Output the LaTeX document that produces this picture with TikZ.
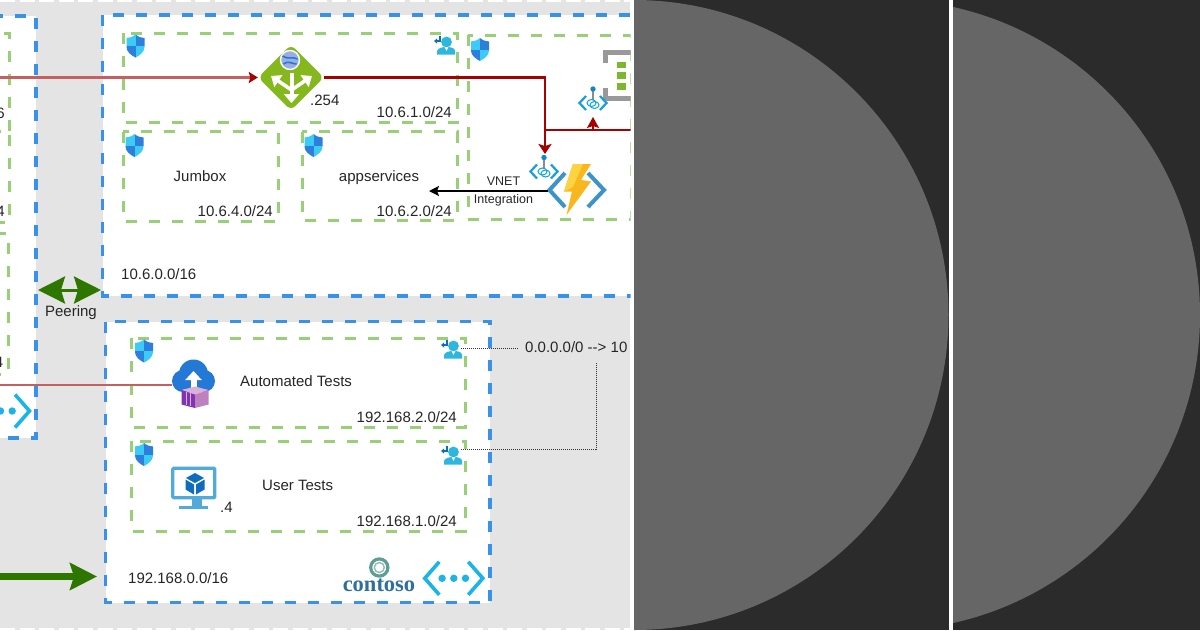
\documentclass[tikz,border=0pt]{standalone}
\usepackage{fontspec}
\setmainfont{Liberation Sans}
\newfontfamily\logofont{Liberation Serif}
\usetikzlibrary{arrows.meta,shapes.geometric}

\definecolor{diagbg}{HTML}{E4E4E4}
\definecolor{vnetblue}{HTML}{3893E8}
\definecolor{subnetgreen}{HTML}{97D077}
\definecolor{panelbg}{HTML}{2B2B2B}
\definecolor{panelcircle}{HTML}{666666}
\definecolor{routered}{HTML}{A80000}
\definecolor{fadedred}{HTML}{C65F5F}
\definecolor{peergreen}{HTML}{2D7600}
\definecolor{iconcyan}{HTML}{1AB4E6}
\definecolor{personcyan}{HTML}{2DB7DF}
\definecolor{funcblue}{HTML}{3B94C8}
\definecolor{shieldlight}{HTML}{3CCBF4}
\definecolor{shielddark}{HTML}{2C80DC}
\definecolor{gatewaygreen}{HTML}{85B81C}
\definecolor{cloudblue}{HTML}{2478D6}
\definecolor{vmblue}{HTML}{50ABD8}
\definecolor{cubeblue}{HTML}{106CBD}
\definecolor{storegreen}{HTML}{7CB82F}
\definecolor{logoteal}{HTML}{5F9E93}
\definecolor{logoblue}{HTML}{2E6F9E}
\definecolor{boltdark}{HTML}{F9B71E}
\definecolor{boltlight}{HTML}{FFD23F}

\tikzset{
	vnetbox/.style={draw=vnetblue, fill=white, line width=3.4pt, dash pattern=on 11pt off 12pt},
	subnetbox/.style={draw=subnetgreen, line width=3pt, dash pattern=on 11pt off 12pt},
	lbl/.style={font=\fontsize{15}{18}\selectfont, text=black!85, inner sep=0pt},
	smalllbl/.style={font=\fontsize{12.5}{15}\selectfont, text=black!85, inner sep=0pt},
	routedot/.style={black!80, line width=1pt, dash pattern=on 1pt off 1pt},
	bigtip/.tip={Stealth[length=27pt,width=27pt,inset=4pt]},
	shieldicon/.pic={
		\begin{scope}
			\clip (0,-11.5) .. controls (-3,-9) and (-6,-8) .. (-9,-8) -- (-9,1) .. controls (-9,6) and (-4,9.5) .. (0,11.5) .. controls (4,9.5) and (9,6) .. (9,1) -- (9,-8) .. controls (6,-8) and (3,-9) .. (0,-11.5) -- cycle;
			\fill[shieldlight] (-10,-12) rectangle (0,0);
			\fill[shieldlight] (0,0) rectangle (10,12);
			\fill[shielddark] (0,-12) rectangle (10,0);
			\fill[shielddark] (-10,0) rectangle (0,12);
		\end{scope}
	},
	personicon/.pic={
		\fill[personcyan] (1.5,-3) circle (5.4);
		\fill[personcyan] (-8,9.5) -- (-8,6) .. controls (-7,3) and (-3,2) .. (1.5,2) .. controls (6,2) and (10,3) .. (10,6) -- (10,9.5) -- cycle;
		\fill[white] (-0.4,2) -- (3.4,2) -- (1.5,6) -- cycle;
		\draw[line width=1.4pt, cubeblue] (-5,-9) -- (-5,-4) -- (-8,-4);
		\fill[cubeblue] (-8,-6.5) -- (-8,-1.5) -- (-11,-4) -- cycle;
	},
	endpointicon/.pic={
		\draw[iconcyan!70!cubeblue, line width=2.2pt] (-7,-7) -- (-13.5,0) -- (-7,7);
		\draw[iconcyan!70!cubeblue, line width=2.2pt] (7,-7) -- (13.5,0) -- (7,7);
		\draw[black!45, line width=1.2pt] (0,-14) -- (0,-3);
		\fill[cubeblue!80!cyan] (0,-14) circle (2.7);
		\draw[cubeblue!60!cyan, line width=1pt] (-1.5,0) ellipse (4.5 and 3.5);
		\draw[cubeblue!60!cyan, line width=1pt] (1.5,2) ellipse (4.5 and 3.5);
	},
	vneticon/.pic={
		\draw[iconcyan, line width=3.6pt] (-14.5,-16.5) -- (-29,0) -- (-14.5,16.5);
		\draw[iconcyan, line width=3.6pt] (14.5,-16.5) -- (29,0) -- (14.5,16.5);
		\fill[iconcyan] (-11.7,0) circle (3.7);
		\fill[iconcyan] (0,0) circle (3.7);
		\fill[iconcyan] (11.7,0) circle (3.7);
	},
}

\begin{document}
\begin{tikzpicture}[x=1pt, y=-1pt]
	\useasboundingbox (0,0) rectangle (1200,630);
	% Draw page and the two dark panels
	\fill[white] (0,0) rectangle (1200,630);
	\fill[panelbg] (634,0) rectangle (948.5,630);
	\fill[panelcircle] (634,0) arc (-90:90:314.5 and 315) -- cycle;
	\fill[panelbg] (953,0) rectangle (1200,630);
	\begin{scope}
		\clip (953,0) rectangle (1200,630);
		\fill[panelcircle] (884.5,315) circle (315.5);
	\end{scope}

	\begin{scope}
	\clip (0,0) rectangle (630.5,630);
	\fill[diagbg] (0,0) rectangle (630,630);
	\draw[white, line width=2.4pt, dash pattern=on 15pt off 4.5pt] (0,0.6) -- (630,0.6);
	\draw[white, line width=3pt, dash pattern=on 15pt off 4.5pt] (0,629.4) -- (630,629.4);

	% Draw virtual networks
	\draw[vnetbox] (-30,16) rectangle (36,438);
	\draw[vnetbox] (102.5,15) rectangle (660,296);
	\draw[vnetbox] (105.5,321.5) rectangle (490,602.5);

	% Draw subnets
	% Left network
	\draw[subnetbox] (-30,33) rectangle (9.5,131);
	\draw[subnetbox] (-30,131) rectangle (9.5,222);
	\draw[subnetbox] (-30,233) rectangle (8,374);
	% Upper network
	\draw[subnetbox] (123,33) rectangle (457,122.5);
	\draw[subnetbox] (123,131.5) rectangle (278,221);
	\draw[subnetbox] (302,131.5) rectangle (457,220.5);
	\draw[subnetbox] (468,35) rectangle (631.5,219);
	% Lower network
	\draw[subnetbox] (131,338) rectangle (465,427);
	\draw[subnetbox] (131,441) rectangle (465,531);

	% Draw gateway
	\node (gateway) [diamond, aspect=1, fill=gatewaygreen, rounded corners=6pt, minimum width=66pt, minimum height=66pt, inner sep=0pt] at (291,77.5) {};
	\fill[cyan!40!blue!40!white] (290,60) circle (9.5);
	\draw[white, line width=1.4pt] (290,60) circle (9.5);
	\draw[cloudblue, line width=1.6pt] (282.5,56) .. controls (288,60) and (292,56) .. (297.5,59);
	\draw[cloudblue, line width=1.6pt] (283.5,64) .. controls (288,60) and (292,64) .. (296.5,64);
	\draw[white, line width=4pt, -{Triangle[length=9pt,width=15pt]}] (291.5,73) -- (291.5,103);
	\draw[white, line width=3.6pt, -{Triangle[length=9pt,width=14pt]}] (291.5,90) -- (271,76);
	\draw[white, line width=3.6pt, -{Triangle[length=9pt,width=14pt]}] (291.5,90) -- (312,76);

	% Draw shields
	\pic at (135.5,46) {shieldicon};
	\pic at (134.5,145.5) {shieldicon};
	\pic at (313.5,145.5) {shieldicon};
	\pic at (480,49.5) {shieldicon};
	\pic at (144,351) {shieldicon};
	\pic at (144,454.5) {shieldicon};

	% Draw route tables
	\coordinate (routeA) at (452,349);
	\coordinate (routeB) at (452,455);
	\pic at (445,45) {personicon};
	\pic at (routeA) {personicon};
	\pic at (routeB) {personicon};

	% Draw storage
	\draw[black!40, line width=5pt] (605.5,63) -- (605.5,52) -- (635,52);
	\draw[black!40, line width=5pt] (605.5,88) -- (605.5,98) -- (635,98);
	\fill[storegreen] (616.5,61.5) rectangle (626,68);
	\fill[storegreen] (616.5,72) rectangle (626,78.5);
	\fill[storegreen] (616.5,83) rectangle (626,89.5);

	% Draw private endpoints
	\coordinate (endpointA) at (593,103);
	\coordinate (endpointB) at (544,171.5);
	\pic at (endpointA) {endpointicon};
	\pic at (endpointB) {endpointicon};

	% Draw function
	\coordinate (funcapp) at (576.7,190);
	\draw[funcblue, line width=4pt] (565,173) -- (549.5,190) -- (565,207);
	\draw[funcblue, line width=4pt] (588,173) -- (604,190) -- (588,207);
	\fill[boltdark] (573,164) -- (591,164) -- (581,180) -- (591,181.5) -- (566.5,215) -- (572,191.5) -- (564,191.5) -- cycle;
	\fill[boltlight] (573,164) -- (583,164) -- (573,187) -- (564,191.5) -- cycle;

	% Draw container cloud
	\coordinate (cloudedge) at (172,384.5);
	\fill[cloudblue] (193.5,374) circle (14.5);
	\fill[cloudblue] (183,381) circle (11);
	\fill[cloudblue] (204,381) circle (11);
	\fill[cloudblue] (183,378) rectangle (204,392);
	\draw[white, line width=6pt, -{Triangle[length=9pt,width=16pt]}] (193.5,392) -- (193.5,371);
	\fill[violet!30!white] (181.5,390) -- (195,386.5) -- (208.5,390) -- (195,394.5) -- cycle;
	\fill[violet!75!blue!80!white] (181.5,390) -- (195,394.5) -- (195,408) -- (181.5,404.5) -- cycle;
	\fill[violet!50!white] (195,394.5) -- (208.5,390) -- (208.5,404.5) -- (195,408) -- cycle;
	\draw[white!70!violet, line width=0.8pt] (186,392) -- (186,405);
	\draw[white!70!violet, line width=0.8pt] (190.5,393) -- (190.5,406);

	% Draw virtual machine
	\draw[vmblue, line width=3.2pt, rounded corners=1pt] (172.8,468.3) rectangle (214.8,497.7);
	\fill[vmblue] (191.5,499) rectangle (201.5,506);
	\fill[vmblue] (178.5,505.5) rectangle (208,508.5);
	\fill[cubeblue] (195,473) -- (204,478) -- (195,483) -- (186,478) -- cycle;
	\fill[cubeblue] (185.5,479.5) -- (194,484.5) -- (194,494.5) -- (185.5,489.5) -- cycle;
	\fill[cubeblue] (204.5,479.5) -- (196,484.5) -- (196,494.5) -- (204.5,489.5) -- cycle;

	% Draw network icons and logo
	\pic at (0.5,411) {vneticon};
	\pic at (453.8,578.3) {vneticon};
	\draw[logoteal, line width=3.2pt] (379.3,567.5) circle (8.6);
	\draw[logoteal!70!white, line width=1.4pt] (379.3,567.5) circle (5);
	\node (contoso) [font=\logofont\bfseries\fontsize{22.5}{24}\selectfont, text=logoblue, inner sep=0pt] at (379,585) {contoso};

	% Draw connectors
	\coordinate (westin) at (-5,77.5);
	\coordinate (westout) at (-5,384.5);
	\coordinate (eastin) at (635,130);
	\coordinate (junction) at (545,130);
	\coordinate (branch) at (593,130);
	\coordinate (endpointAtip) at (593,117);
	\coordinate (endpointBtip) at (545,154);
	\coordinate (funcwest) at (548,191);
	\coordinate (appwest) at (429,191);
	\coordinate (routeAout) at (461,348);
	\coordinate (routeAend) at (519,348);
	\coordinate (routeBout) at (461,449);
	\coordinate (routeend) at (596,362);
	\coordinate (greenstart) at (-5,576.5);
	\coordinate (greentip) at (97,576.5);
	\coordinate (peerwest) at (38,290);
	\coordinate (peereast) at (101,290);

	\draw[fadedred, line width=2.2pt, -{Stealth[length=9pt,width=11pt,inset=1.5pt,color=routered]}] (westin) -- (gateway.west);
	\draw[fadedred, line width=2pt] (westout) -- (cloudedge);
	\draw[routered, line width=2.2pt, -{Stealth[length=10pt,width=13pt,inset=2pt]}] (gateway.east) -| (endpointBtip);
	\draw[routered, line width=1.4pt] (eastin) -- (junction);
	\draw[routered, line width=1.4pt, -{Stealth[length=11pt,width=12pt,inset=2pt]}] (branch) -- (endpointAtip);
	\draw[black, line width=1.5pt, -{Stealth[length=10pt,width=10pt,inset=2pt]}] (funcwest) -- (appwest);
	\draw[peergreen, line width=3pt, {bigtip}-{bigtip}] (peerwest) -- (peereast);
	\draw[peergreen, line width=6.5pt, -{bigtip}] (greenstart) -- (greentip);

	% Draw labels
	\node (lbla) [lbl, anchor=east] at (5,113) {6};
	\node (lblb) [lbl, anchor=east] at (5,211) {4};
	\node (lblc) [lbl, anchor=east] at (3.5,362) {4};
	\node (gatewayip) [lbl, anchor=west] at (310,100) {.254};
	\node (subnetgw) [lbl, anchor=east] at (452,112) {10.6.1.0/24};
	\node (jumbox) [lbl] at (200,176.5) {Jumbox};
	\node (subnetjump) [lbl, anchor=east] at (273,211) {10.6.4.0/24};
	\node (appservices) [lbl] at (379,177.5) {appservices};
	\node (subnetapp) [lbl, anchor=east] at (452,211) {10.6.2.0/24};
	\node (vnetupper) [lbl, anchor=west] at (121,274) {10.6.0.0/16};
	\node (peering) [lbl] at (71,313) {Peering};
	\node (vnettop) [smalllbl] at (503.5,181) {VNET};
	\node (vnetbottom) [smalllbl] at (503.5,200.5) {Integration};
	\node (autotests) [lbl, anchor=west] at (240,381.5) {Automated Tests};
	\node (subnetauto) [lbl, anchor=east] at (457,417.5) {192.168.2.0/24};
	\node (usertests) [lbl, anchor=west] at (262,485) {User Tests};
	\node (vmip) [lbl, anchor=west] at (220,507.5) {.4};
	\node (subnetuser) [lbl, anchor=east] at (457,521.5) {192.168.1.0/24};
	\node (vnetlower) [lbl, anchor=west] at (128,578.5) {192.168.0.0/16};
	\node (routelbl) [lbl, anchor=west] at (525,347) {0.0.0.0/0 -{}-> 10};

	% Draw routes
	\draw[routedot] (routeAout) -- (routeAend);
	\draw[routedot] (routeBout) -| (routeend);
	\end{scope}
\end{tikzpicture}
\end{document}
